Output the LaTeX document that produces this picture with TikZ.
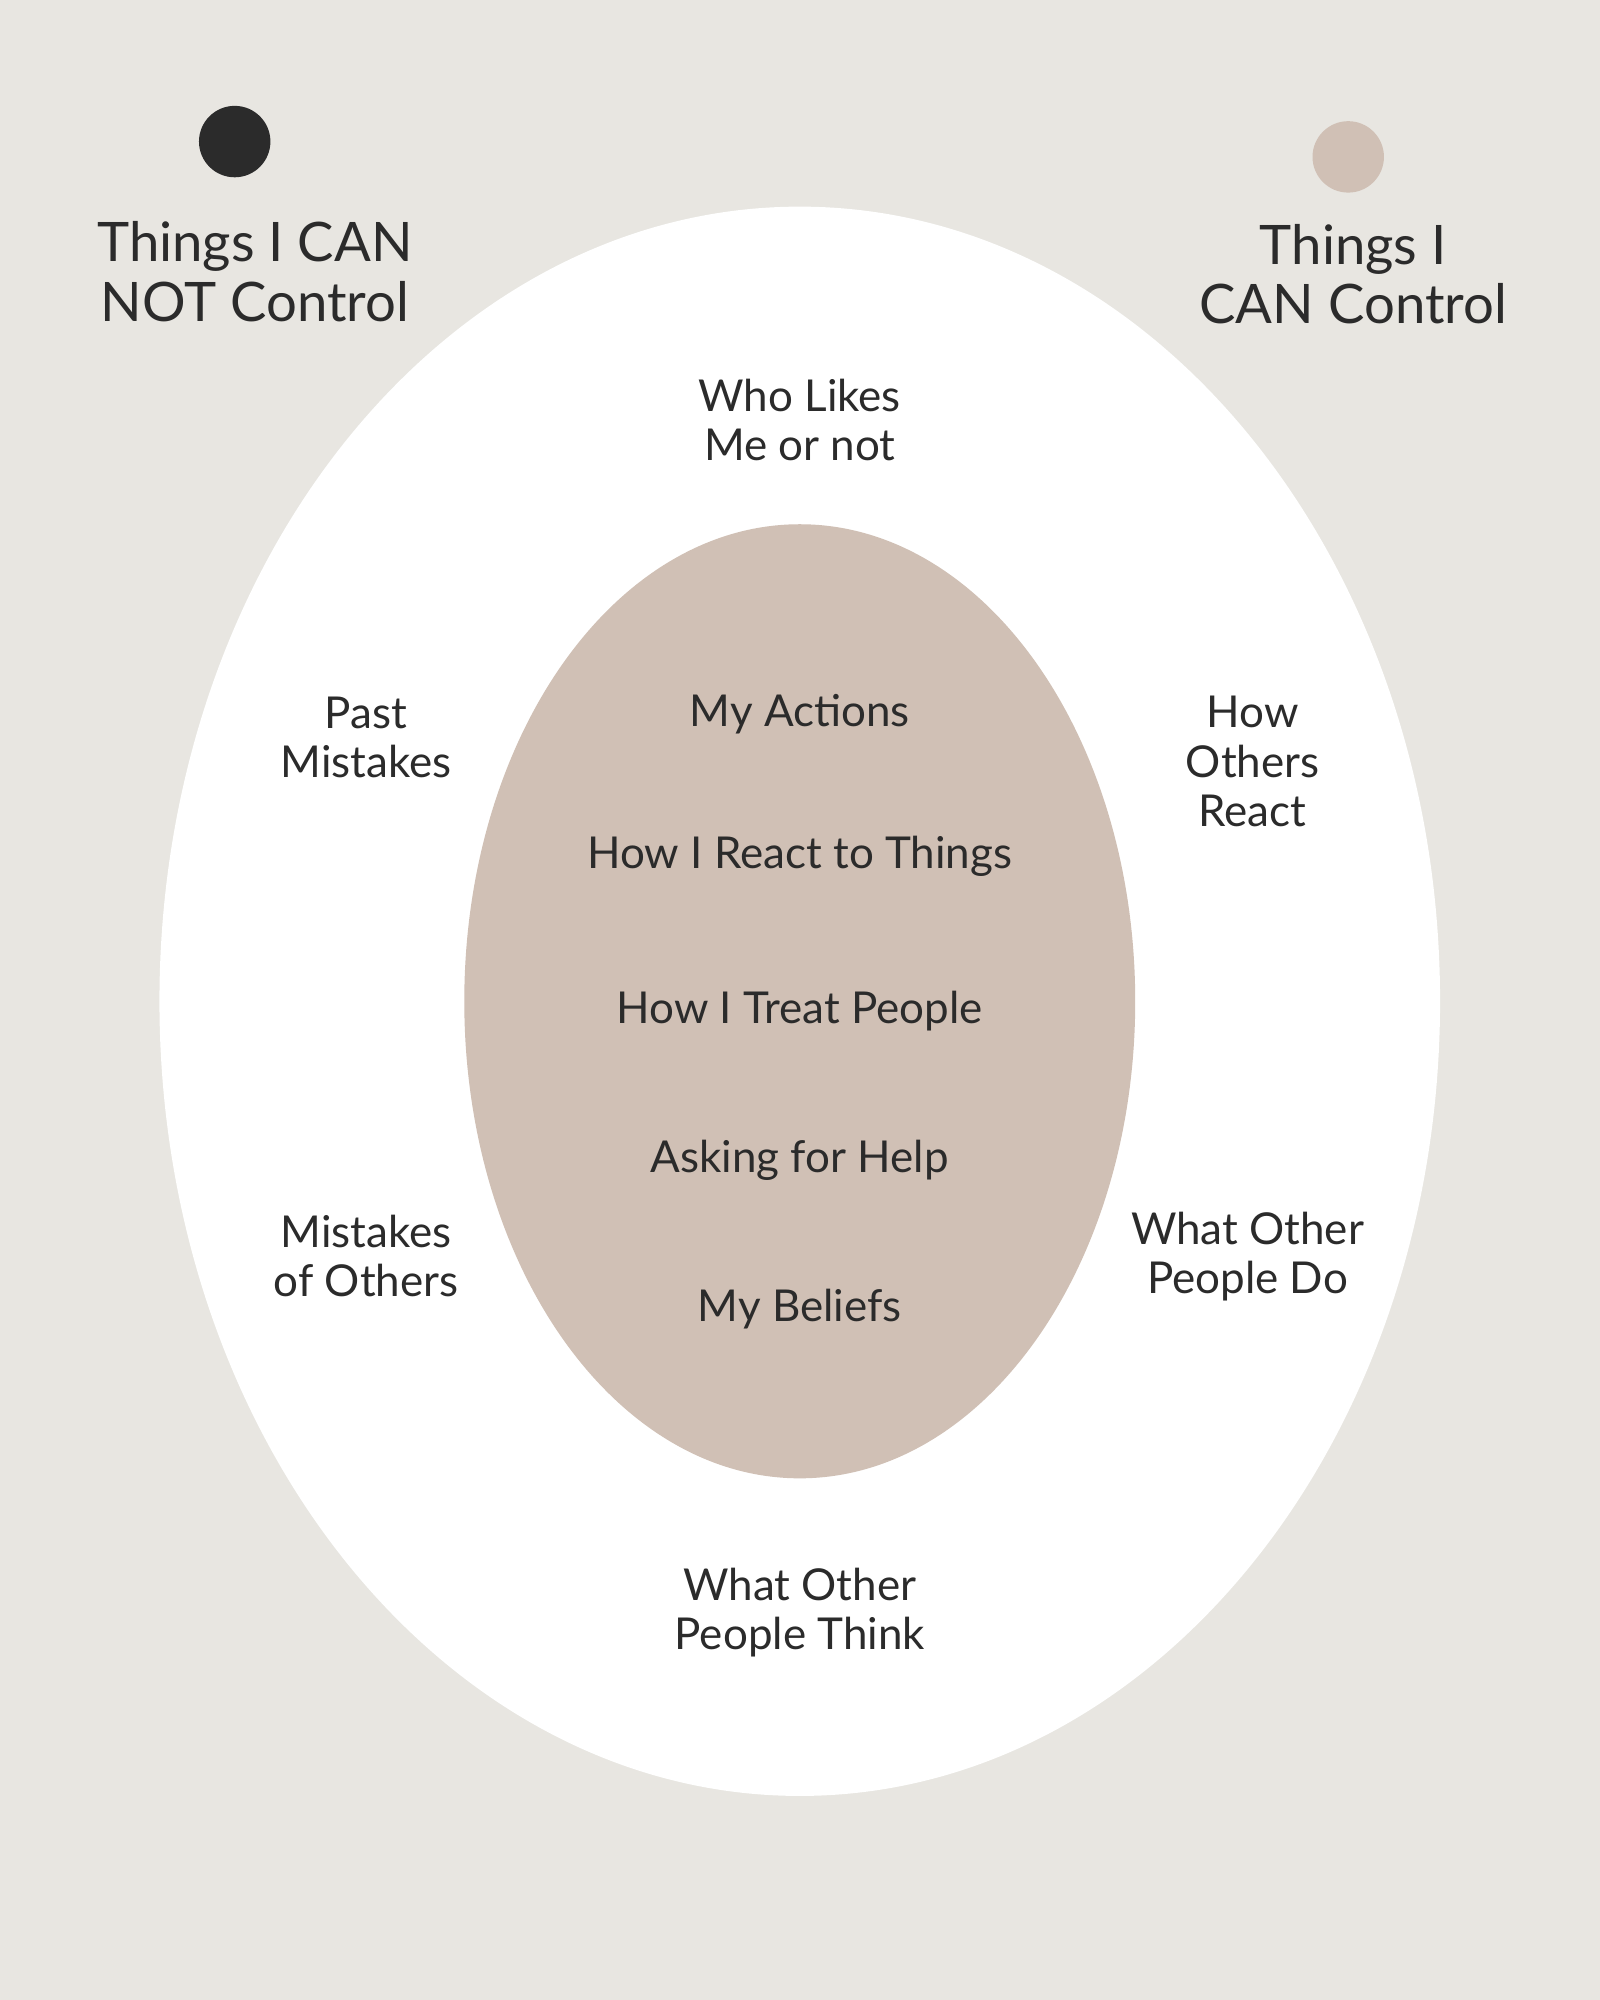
\documentclass[tikz,border=0pt]{standalone}
\usepackage{fontspec}
\setmainfont{Lato}
\usetikzlibrary{positioning}
\definecolor{bgcol}{HTML}{E8E6E1}
\definecolor{beige}{HTML}{D0C0B5}
\definecolor{ink}{HTML}{2B2B2B}
\tikzset{
  item/.style={align=center, text=ink, font=\fontsize{12.5}{14}\selectfont},
  title/.style={align=center, text=ink, font=\fontsize{15.5}{17}\selectfont},
}
\begin{document}
\begin{tikzpicture}[x=0.012759cm, y=-0.012759cm]
        \fill[bgcol] (0,0) rectangle (1254,1568);
        \useasboundingbox (0,0) rectangle (1254,1568);
        \fill[white] (627,785) ellipse [x radius=502, y radius=623];
        \fill[beige] (627,785) ellipse [x radius=263, y radius=374];

        % legend
        \fill[ink] (184,111) circle [radius=28];
        \fill[beige] (1057,123) circle [radius=28];
        \node[title] (cannot) at (200,213) {Things I CAN\\ NOT Control};
        \node[title] (can) at (1061,215) {Things I\\ CAN Control};

        % outer ring
        \node[item] (likes) at (627,329) {Who Likes\\ Me or not};
        \node[item] (past) at (287,578) {Past\\ Mistakes};
        \node[item] (react) at (982,597) {How\\ Others\\ React};
        \node[item] (others) at (287,985) {Mistakes\\ of Others};
        \node[item] (do) at (978,985) {What Other\\ People Do};
        \node[item] (think) at (627,1264) {What Other\\ People Think};

        % inner
        \node[item] (actions) at (627,560) {My Actions};
        \node[item] (reactme) at (627,671) {How I React to Things};
        \node[item] (treat) at (627,793) {How I Treat People};
        \node[item] (help) at (627,910) {Asking for Help};
        \node[item] (beliefs) at (627,1026) {My Beliefs};
\end{tikzpicture}
\end{document}
